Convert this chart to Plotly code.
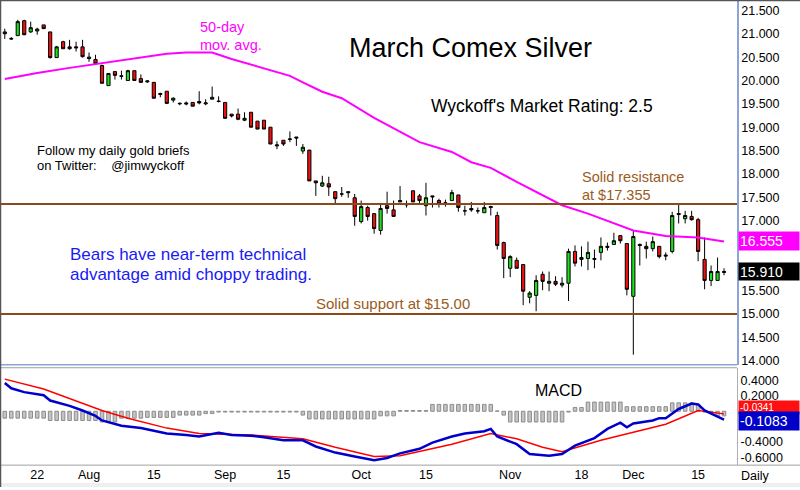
import pandas as pd
import plotly.graph_objects as go

W, H = 800, 490

# ---------------- data ----------------
holidays = ["2014-09-01", "2014-11-27"]
dates = [d.strftime("%Y-%m-%d") for d in pd.bdate_range("2014-07-15", "2014-12-19")
         if d.strftime("%Y-%m-%d") not in holidays]

opens = [21.04, 20.90, 20.96, 21.28, 21.04, 21.06, 21.19, 21.04, 20.49, 20.83,
         20.72, 20.72, 20.72, 20.50, 20.45, 20.32, 19.89, 20.19, 20.10, 20.00,
         20.21, 20.04, 19.97, 19.96, 19.70, 19.77, 19.58, 19.50, 19.52, 19.53,
         19.55, 19.50, 19.60, 19.56, 19.53, 19.28, 19.28, 19.15, 19.32, 19.13,
         19.15, 19.00, 18.60, 18.72, 18.75, 18.79, 18.49, 18.51, 17.85, 17.74,
         17.79, 17.62, 17.57, 17.62, 17.49, 16.98, 17.28, 17.15, 16.79, 17.32,
         17.23, 17.40, 17.36, 17.64, 17.53, 17.32, 17.53, 17.43, 17.36, 17.43,
         17.55, 17.21, 17.26, 17.21, 17.17, 17.28, 17.11, 16.53, 15.98, 16.15,
         16.06, 15.36, 15.40, 15.85, 15.66, 15.70, 15.62, 15.66, 16.34, 16.17,
         16.19, 16.17, 16.32, 16.45, 16.49, 16.68, 16.51, 15.38, 16.49, 16.45,
         16.40, 16.45, 16.24, 16.34, 17.13, 17.04, 17.09, 17.02, 16.17, 15.72,
         15.72, 15.89]
highs = [21.11, 20.93, 21.30, 21.30, 21.26, 21.13, 21.19, 21.04, 20.74, 20.85,
         20.87, 20.83, 20.87, 20.60, 20.55, 20.34, 20.15, 20.19, 20.21, 20.23,
         20.21, 20.13, 20.00, 19.96, 19.74, 19.77, 19.64, 19.53, 19.55, 19.53,
         19.77, 19.60, 19.87, 19.66, 19.53, 19.28, 19.40, 19.32, 19.32, 19.13,
         19.15, 19.00, 18.70, 18.72, 18.91, 18.79, 18.64, 18.51, 17.85, 17.96,
         17.94, 17.62, 17.72, 17.62, 17.57, 17.43, 17.32, 17.15, 17.34, 17.62,
         17.43, 17.74, 17.43, 17.64, 17.57, 17.81, 17.53, 17.47, 17.45, 17.66,
         17.55, 17.32, 17.40, 17.28, 17.40, 17.32, 17.19, 16.55, 16.26, 16.21,
         16.06, 15.49, 15.83, 15.91, 15.91, 15.81, 15.79, 16.40, 16.47, 16.45,
         16.55, 16.38, 16.64, 16.53, 16.74, 16.68, 16.51, 16.79, 16.51, 16.55,
         16.66, 16.45, 16.32, 17.19, 17.34, 17.21, 17.21, 17.06, 16.64, 16.04,
         16.21, 15.98]
lows = [20.89, 20.87, 20.96, 20.97, 21.02, 20.98, 21.11, 20.47, 20.49, 20.68,
        20.66, 20.62, 20.49, 20.40, 20.36, 19.94, 19.89, 20.02, 20.02, 20.00,
        20.00, 19.96, 19.95, 19.62, 19.64, 19.51, 19.53, 19.47, 19.47, 19.45,
        19.49, 19.47, 19.60, 19.53, 19.19, 19.21, 19.15, 19.13, 19.00, 18.96,
        18.96, 18.64, 18.53, 18.60, 18.68, 18.60, 18.43, 17.85, 17.53, 17.72,
        17.53, 17.34, 17.51, 17.49, 16.89, 16.94, 17.00, 16.72, 16.70, 17.15,
        17.09, 17.40, 17.28, 17.40, 17.38, 17.11, 17.28, 17.28, 17.30, 17.43,
        17.19, 17.11, 17.19, 17.15, 17.17, 17.11, 16.38, 15.77, 15.79, 15.98,
        15.19, 15.23, 15.06, 15.51, 15.49, 15.60, 15.57, 15.28, 16.02, 16.02,
        15.94, 15.98, 16.15, 16.36, 16.49, 16.51, 15.40, 14.13, 16.04, 16.19,
        16.34, 16.19, 16.15, 16.30, 16.94, 16.94, 17.00, 16.13, 15.53, 15.60,
        15.72, 15.83]
closes = [21.00, 20.89, 21.26, 20.98, 21.13, 21.10, 21.11, 20.49, 20.72, 20.68,
          20.68, 20.70, 20.51, 20.47, 20.36, 19.94, 20.15, 20.11, 20.09, 20.21,
          20.00, 19.96, 19.99, 19.62, 19.72, 19.51, 19.62, 19.51, 19.50, 19.45,
          19.52, 19.52, 19.64, 19.55, 19.19, 19.24, 19.17, 19.19, 19.00, 18.96,
          18.96, 18.64, 18.62, 18.64, 18.74, 18.77, 18.57, 17.85, 17.81, 17.81,
          17.72, 17.47, 17.57, 17.60, 17.09, 17.30, 17.09, 16.83, 17.26, 17.26,
          17.09, 17.43, 17.34, 17.40, 17.43, 17.49, 17.51, 17.36, 17.38, 17.60,
          17.28, 17.21, 17.23, 17.21, 17.28, 17.30, 16.47, 16.19, 16.23, 15.98,
          15.49, 15.45, 15.72, 15.70, 15.70, 15.64, 15.66, 16.34, 16.09, 16.21,
          16.32, 16.19, 16.45, 16.43, 16.57, 16.57, 15.53, 16.66, 16.47, 16.40,
          16.55, 16.23, 16.26, 17.11, 17.15, 17.11, 17.02, 16.34, 15.72, 15.91,
          15.91, 15.91]

ma_dates = ["2014-07-15", "2014-07-22", "2014-07-29", "2014-08-05", "2014-08-12",
            "2014-08-19", "2014-08-22", "2014-08-28", "2014-09-03", "2014-09-09",
            "2014-09-16", "2014-09-18", "2014-09-23", "2014-09-26", "2014-10-03",
            "2014-10-14", "2014-10-21", "2014-10-24", "2014-10-29", "2014-11-04",
            "2014-11-11", "2014-11-13", "2014-11-19", "2014-11-26", "2014-12-01",
            "2014-12-08", "2014-12-15", "2014-12-19"]
ma_vals = [20.03, 20.16, 20.27, 20.37, 20.48, 20.57, 20.60, 20.60, 20.46, 20.30,
           20.10, 19.96, 19.76, 19.62, 19.20, 18.68, 18.47, 18.25, 18.13, 17.83,
           17.48, 17.33, 17.15, 16.89, 16.79, 16.67, 16.64, 16.555]

support = 15.00
resistance = 17.355
last_close = 15.910

macd_dates = ["2014-07-15", "2014-07-16", "2014-07-18", "2014-07-23", "2014-07-24",
              "2014-07-29", "2014-07-31", "2014-08-04", "2014-08-05", "2014-08-08",
              "2014-08-13", "2014-08-19", "2014-08-22", "2014-08-26", "2014-08-29",
              "2014-09-03", "2014-09-08", "2014-09-10", "2014-09-15", "2014-09-18",
              "2014-09-22", "2014-09-25", "2014-09-30", "2014-10-03", "2014-10-07",
              "2014-10-09", "2014-10-14", "2014-10-16", "2014-10-21", "2014-10-23",
              "2014-10-28", "2014-10-29", "2014-10-30", "2014-11-04", "2014-11-06",
              "2014-11-11", "2014-11-13", "2014-11-17", "2014-11-20", "2014-11-24",
              "2014-11-26", "2014-11-28", "2014-12-01", "2014-12-04", "2014-12-05",
              "2014-12-08", "2014-12-10", "2014-12-12", "2014-12-15", "2014-12-16",
              "2014-12-18", "2014-12-19"]
macd_vals = [0.37, 0.30, 0.25, 0.21, 0.14, 0.07, 0.01, -0.06, -0.12, -0.19,
             -0.22, -0.29, -0.31, -0.33, -0.28, -0.31, -0.32, -0.34, -0.38, -0.38,
             -0.46, -0.54, -0.59, -0.64, -0.61, -0.55, -0.49, -0.41, -0.33, -0.29,
             -0.26, -0.23, -0.33, -0.43, -0.56, -0.58, -0.56, -0.45, -0.35, -0.23,
             -0.15, -0.21, -0.16, -0.12, -0.09, -0.09, 0.03, 0.10, 0.09, 0.01,
             -0.07, -0.1083]
sig_dates = ["2014-07-15", "2014-07-23", "2014-08-05", "2014-08-11", "2014-08-19",
             "2014-08-26", "2014-09-08", "2014-09-18", "2014-09-25", "2014-10-03",
             "2014-10-09", "2014-10-21", "2014-10-29", "2014-11-04", "2014-11-10",
             "2014-11-13", "2014-11-21", "2014-12-01", "2014-12-08", "2014-12-15",
             "2014-12-19"]
sig_vals = [0.42, 0.29, 0.01, -0.09, -0.22, -0.29, -0.31, -0.36, -0.47, -0.59,
            -0.58, -0.43, -0.29, -0.36, -0.47, -0.53, -0.38, -0.28, -0.17, 0.01,
            -0.0341]
hist_vals = ([-0.09] * 7 + [-0.12] * 8 + [-0.14] * 3 + [-0.09] * 4 + [-0.08] * 5 +
             [-0.05] * 4 + [-0.03] * 2 + [-0.01] * 13 + [-0.05] + [-0.10] * 11 +
             [-0.06] * 3 + [0.01] * 5 + [0.09] * 10 + [0.005] + [-0.05] +
             [-0.14] * 9 + [-0.01] + [0.05] * 2 + [0.12] * 6 + [0.06] * 7 +
             [0.11] * 4 + [0.09] + [-0.01] * 2 + [-0.06] * 2)

# tick labels hidden behind the value tags in the reference are left out
price_ticks = [14.0, 14.5, 15.0, 15.5, 17.0, 17.5, 18.0, 18.5,
               19.0, 19.5, 20.0, 20.5, 21.0, 21.5]
macd_ticks = [0.4, 0.2, -0.4, -0.6]
x_tick_dates = ["2014-07-22", "2014-08-01", "2014-08-15", "2014-09-02", "2014-09-15",
                "2014-10-01", "2014-10-15", "2014-11-03", "2014-11-18", "2014-12-01",
                "2014-12-15"]
x_tick_text = ["22", "Aug", "15", "Sep", "15", "Oct", "15", "Nov", "18", "Dec", "15"]

# ---------------- figure ----------------
FONT = "Liberation Sans"
BROWN = "#8B4A1C"
BROWN_TXT = "#9A5B22"
MAG = "#FF00FF"


def px(x):
    return x / W


def py(y):
    return 1 - y / H


fig = go.Figure()

fig.add_trace(go.Candlestick(
    x=dates, open=opens, high=highs, low=lows, close=closes,
    increasing=dict(line=dict(color="black", width=1), fillcolor="#1EE01E"),
    decreasing=dict(line=dict(color="black", width=1), fillcolor="#F01010"),
    whiskerwidth=0, xaxis="x", yaxis="y", showlegend=False, hoverinfo="skip"))

fig.add_trace(go.Scatter(x=ma_dates, y=ma_vals, mode="lines",
                         line=dict(color=MAG, width=2), xaxis="x", yaxis="y",
                         showlegend=False, hoverinfo="skip"))

fig.add_trace(go.Bar(x=dates, y=hist_vals, marker=dict(color="#C4C4C4",
                     line=dict(color="#8C8C8C", width=1)),
                     xaxis="x2", yaxis="y2", showlegend=False, hoverinfo="skip"))
fig.add_trace(go.Scatter(x=sig_dates, y=sig_vals, mode="lines",
                         line=dict(color="#FF0000", width=1.5),
                         xaxis="x2", yaxis="y2", showlegend=False, hoverinfo="skip"))
fig.add_trace(go.Scatter(x=macd_dates, y=macd_vals, mode="lines",
                         line=dict(color="#0000CC", width=2.5),
                         xaxis="x2", yaxis="y2", showlegend=False, hoverinfo="skip"))

xr = [-0.74, 113.0]
xdom = [0, px(737)]

fig.update_layout(
    width=W, height=H, margin=dict(l=0, r=0, t=0, b=0),
    paper_bgcolor="white", plot_bgcolor="white",
    font=dict(family=FONT, size=12.5, color="black"),
    bargap=0.45,
    xaxis=dict(domain=xdom, anchor="y", type="category", categoryorder="array",
               categoryarray=dates, range=xr, showticklabels=False, showgrid=False,
               zeroline=False, showline=False, ticks="",
               rangeslider=dict(visible=False)),
    yaxis=dict(domain=[py(367), 1.0], anchor="x", side="right",
               range=[13.915, 21.723], tickvals=price_ticks,
               ticktext=[f"{v:.3f}" for v in price_ticks], showgrid=False,
               zeroline=False, showline=True, linecolor="#8EA4D8", linewidth=1.5,
               ticks="", tickfont=dict(size=12.5)),
    xaxis2=dict(domain=xdom, anchor="y2", type="category", categoryorder="array",
                categoryarray=dates, range=xr, matches="x", tickvals=x_tick_dates,
                ticktext=x_tick_text, showgrid=False, zeroline=False,
                showline=False, ticks="", tickfont=dict(size=12.5),
                rangeslider=dict(visible=False)),
    yaxis2=dict(domain=[py(468), py(370)], anchor="x2", side="right",
                range=[-0.704, 0.569], tickvals=macd_ticks,
                ticktext=[f"{v:.4f}" for v in macd_ticks], showgrid=False,
                zeroline=False, showline=True, linecolor="#B0B0B0", linewidth=1,
                ticks="", tickfont=dict(size=12.5)),
)

shapes = [
    dict(type="line", xref="x domain", yref="y", x0=0, x1=1, y0=resistance, y1=resistance,
         line=dict(color=BROWN, width=2)),
    dict(type="line", xref="x domain", yref="y", x0=0, x1=1, y0=support, y1=support,
         line=dict(color=BROWN, width=2)),
    # panel separators
    dict(type="line", xref="paper", yref="paper", x0=0, x1=px(737), y0=py(367), y1=py(367),
         line=dict(color="#8EA4D8", width=1.5)),
    dict(type="line", xref="paper", yref="paper", x0=0, x1=px(737), y0=py(370), y1=py(370),
         line=dict(color="#A0A0A0", width=1)),
    dict(type="line", xref="paper", yref="paper", x0=0, x1=1, y0=py(468), y1=py(468),
         line=dict(color="#A0A0A0", width=1)),
    dict(type="rect", xref="paper", yref="paper", x0=0, x1=1, y0=0, y1=py(486),
         fillcolor="#EFEFEF", line=dict(width=0), layer="below"),
    # outer border
    dict(type="line", xref="paper", yref="paper", x0=px(0.5), x1=px(0.5), y0=0, y1=1,
         line=dict(color="#555555", width=1.5)),
    dict(type="line", xref="paper", yref="paper", x0=0, x1=1, y0=py(0.5), y1=py(0.5),
         line=dict(color="#555555", width=1.5)),
]
fig.update_layout(shapes=shapes)


def ann(text, x, y, size, color="black", xanchor="left", yanchor="middle", **kw):
    d = dict(text=text, x=px(x), y=py(y), xref="paper", yref="paper",
             xanchor=xanchor, yanchor=yanchor, showarrow=False,
             font=dict(family=FONT, size=size, color=color))
    d.update(kw)
    return d


NB = "\u00a0"
annotations = [
    ann("March Comex Silver", 470, 48, 27, xanchor="center"),
    ann("Wyckoff's Market Rating: 2.5", 542, 107, 17.5, xanchor="center"),
    ann("50-day", 198, 27, 14.5, color=MAG),
    ann("mov. avg.", 198, 45, 14.5, color=MAG),
    ann("Follow my daily gold briefs", 35, 151, 13),
    ann("on Twitter:" + NB * 3 + " @jimwyckoff", 35, 167, 13),
    ann("Bears have near-term technical", 68, 256, 17, color="#1A1AF5"),
    ann("advantage amid choppy trading.", 68, 276, 17, color="#1A1AF5"),
    ann("Solid resistance", 580, 178, 14.5, color=BROWN_TXT),
    ann("at $17.355", 580, 196, 14.5, color=BROWN_TXT),
    ann("Solid support at $15.00", 314, 305, 15, color=BROWN_TXT),
    ann("MACD", 558, 393, 16, xanchor="center"),
    ann("Daily", 739, 479, 12.5),
    # value tags
    dict(text=f"{ma_vals[-1]:.3f}", x=px(738), y=ma_vals[-1], xref="paper", yref="y",
         xanchor="left", yanchor="middle", showarrow=False, bgcolor=MAG,
         width=58, height=16, align="left",
         font=dict(family=FONT, size=14, color="white")),
    dict(text=f"{last_close:.3f}", x=px(738), y=last_close, xref="paper", yref="y",
         xanchor="left", yanchor="middle", showarrow=False, bgcolor="black",
         width=58, height=15, align="left",
         font=dict(family=FONT, size=14, color="white")),
    dict(text=f"{sig_vals[-1]:.4f}", x=px(738), y=0.05, xref="paper", yref="y2",
         xanchor="left", yanchor="middle", showarrow=False, bgcolor="#FF1010",
         width=58, height=11, align="left",
         font=dict(family=FONT, size=10, color="white")),
    dict(text=f"{macd_vals[-1]:.4f}", x=px(738), y=-0.132, xref="paper", yref="y2",
         xanchor="left", yanchor="middle", showarrow=False, bgcolor="#0000C8",
         width=58, height=16, align="left",
         font=dict(family=FONT, size=14, color="white")),
]
fig.update_layout(annotations=annotations)

fig.write_html("out.html")
